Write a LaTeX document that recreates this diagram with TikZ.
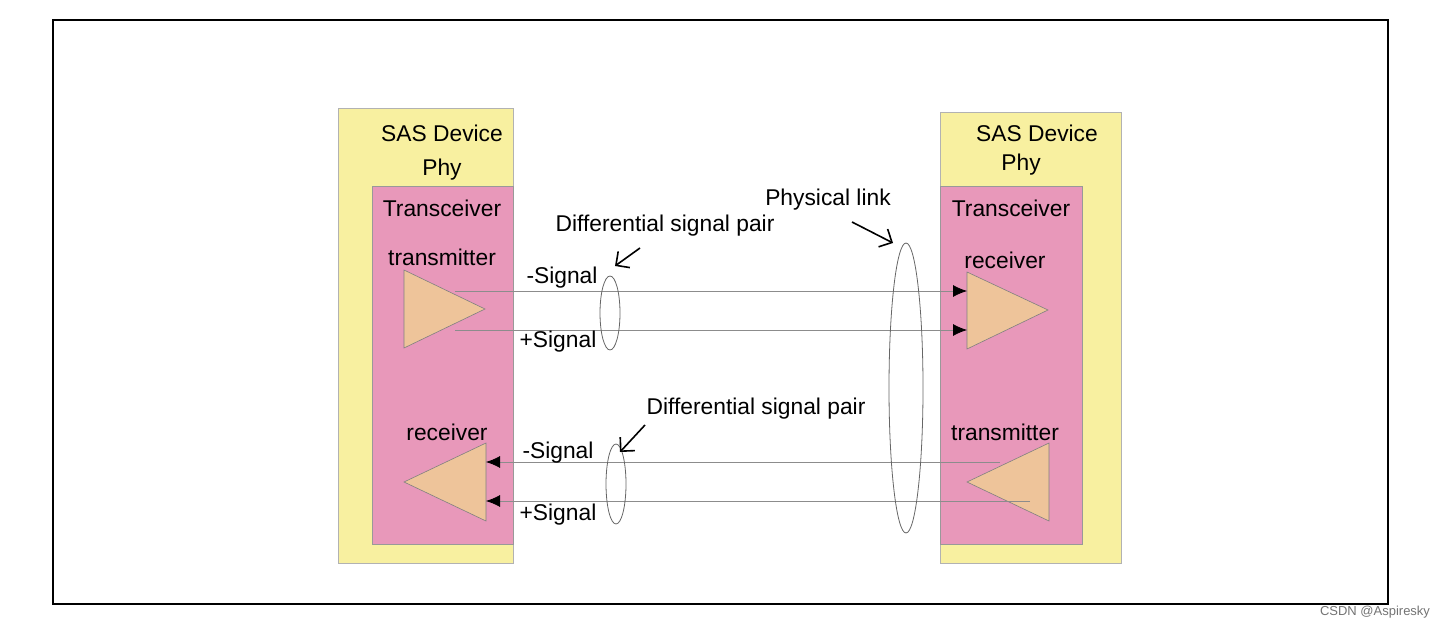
\documentclass[tikz,border=0pt]{standalone}
\usepackage{fontspec}
\setmainfont{Liberation Sans}
\usetikzlibrary{arrows.meta}
\begin{document}
\begin{tikzpicture}[x=0.5pt,y=-0.5pt,
 yel/.style={fill=yelc,draw=black!30,line width=0.3pt},
 pnk/.style={fill=pnkc,draw=black!40,line width=0.3pt},
 tri/.style={fill=tanc,draw=black!50,line width=0.3pt},
 sig/.style={draw=black!45,line width=0.4pt,-{Latex[length=7pt,width=6pt,black]}},
 lbl/.style={font=\fontsize{11.4}{13}\selectfont,inner sep=0pt},
 ell/.style={draw=black!60,line width=0.4pt},
 ann/.style={line width=0.8pt,-{Straight Barb[length=5pt]}}]
\definecolor{yelc}{HTML}{F8F0A0}
\definecolor{pnkc}{HTML}{E898BA}
\definecolor{tanc}{HTML}{EEC49A}
\path[use as bounding box] (0,0) rectangle (1450,630);
\draw[line width=0.8pt] (53,20) rectangle (1388,604);
\draw[yel] (338,108) rectangle (513,563);
\draw[pnk] (372,186) rectangle (513,544);
\draw[yel] (940,112) rectangle (1121,563);
\draw[pnk] (940,186) rectangle (1082,544);
\node[lbl] (sd1) at (442,133) {SAS Device};
\node[lbl] (ph1) at (442,170) {Phy};
\node[lbl] (sd2) at (1037,133) {SAS Device};
\node[lbl] (ph2) at (1021,165) {Phy};
\node[lbl] (tr1) at (442,208) {Transceiver};
\node[lbl] (tr2) at (1011,208) {Transceiver};
\node[lbl] (tx1) at (442,257) {transmitter};
\node[lbl] (rx2) at (1005,260) {receiver};
\node[lbl] (rx1) at (447,432) {receiver};
\node[lbl] (tx2) at (1005,432) {transmitter};
\draw[tri] (404,270) -- (404,348) -- (485,309) -- cycle;
\draw[tri] (967,272) -- (967,349) -- (1048,310) -- cycle;
\draw[tri] (404,482) -- (486,443) -- (486,521) -- cycle;
\draw[tri] (967,482) -- (1049,443) -- (1049,521) -- cycle;
\coordinate (a1) at (455,291); \coordinate (a2) at (967,291);
\coordinate (b1) at (455,330); \coordinate (b2) at (967,330);
\coordinate (c1) at (1000,462); \coordinate (c2) at (486,462);
\coordinate (d1) at (1030,501); \coordinate (d2) at (486,501);
\draw[sig] (a1) -- (a2);
\draw[sig] (b1) -- (b2);
\draw[sig] (c1) -- (c2);
\draw[sig] (d1) -- (d2);
\draw[ell] (610,313) ellipse [x radius=10,y radius=37];
\draw[ell] (616,484) ellipse [x radius=10,y radius=40];
\draw[ell] (906,388) ellipse [x radius=17,y radius=145];
\node[lbl] (m1) at (562,278) {-Signal};
\node[lbl] (p1) at (558,342) {+Signal};
\node[lbl] (m2) at (558,453) {-Signal};
\node[lbl] (p2) at (558,515) {+Signal};
\node[lbl] (dp1) at (665,226) {Differential signal pair};
\node[lbl] (dp2) at (756,409) {Differential signal pair};
\node[lbl] (pl) at (828,200) {Physical link};
\coordinate (e1) at (640,248); \coordinate (e2) at (615,266);
\coordinate (f1) at (645,425); \coordinate (f2) at (620,452);
\coordinate (g1) at (852,222); \coordinate (g2) at (893,243);
\draw[ann] (e1) -- (e2);
\draw[ann] (f1) -- (f2);
\draw[ann] (g1) -- (g2);
\node[font=\fontsize{6.5}{7}\selectfont,text=black!55,inner sep=0pt] (wm) at (1375,612) {CSDN @Aspiresky};
\end{tikzpicture}
\end{document}
